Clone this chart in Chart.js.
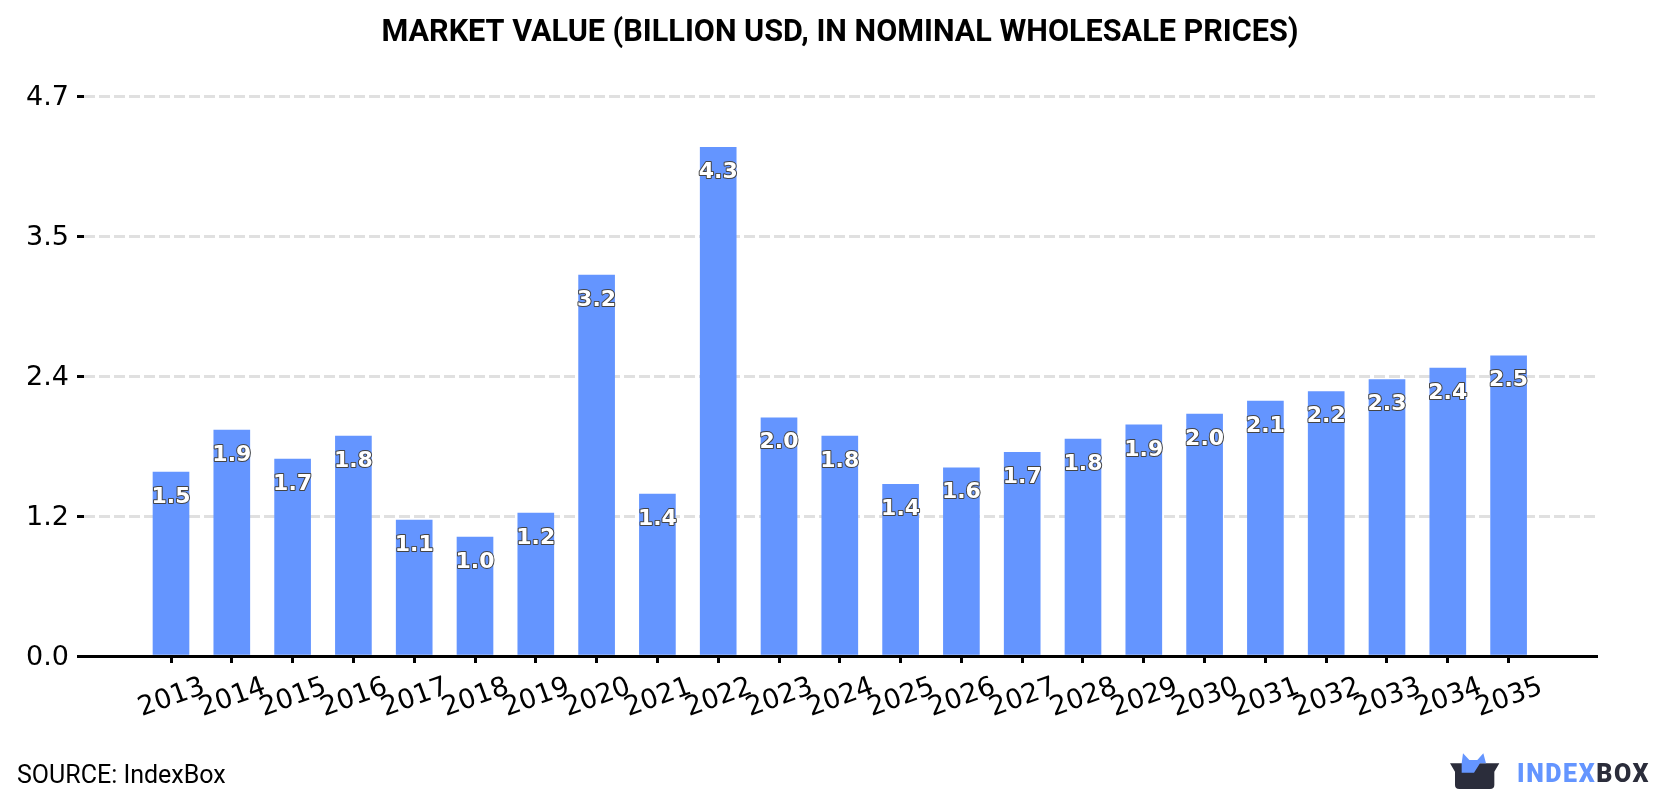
<!DOCTYPE html>
<html>
<head>
<meta charset="utf-8">
<title>Market Value</title>
<script src="https://cdn.jsdelivr.net/npm/chart.js@4"></script>
<style>
  html, body { margin: 0; padding: 0; background: #fff; }
  #wrap { position: relative; width: 1680px; height: 800px; overflow: hidden; }
  #source { position: absolute; left: 17px; top: 760px; font: 25px Roboto, sans-serif; color: #000; }
  #logo-icon { position: absolute; left: 1400px; top: 730px; }
  #logo-text { position: absolute; left: 1517px; top: 759px; font: 900 25px/30px Roboto, sans-serif; letter-spacing: 1.6px; color: #6495ff; }
  #logo-text span { color: #2b2d3b; }
</style>
</head>
<body>
<div id="wrap">
  <canvas id="my-chart" width="1680" height="800"></canvas>
  <div id="source">SOURCE: IndexBox</div>
  <svg id="logo-icon" width="100" height="70" viewBox="0 0 300 210">
    <path fill="#2b2d3b" d="M150 100 H298 L283 125 V165 Q283 177 270 177 H178 Q165 177 165 165 V125 Z"/>
    <path fill="#6495ff" d="M185 100 L189 70 L208 90 H232 L250 70 L258 100 H240 L222 128 H185 Z"/>
  </svg>
  <div id="logo-text">INDEX<span>BOX</span></div>
</div>
<script>
const years = [2013, 2014, 2015, 2016, 2017, 2018, 2019, 2020, 2021, 2022, 2023, 2024,
  2025, 2026, 2027, 2028, 2029, 2030, 2031, 2032, 2033, 2034, 2035];
const marketValue = [1.544, 1.897, 1.653, 1.846, 1.141, 0.999, 1.2, 3.197, 1.36, 4.27, 2.0, 1.846,
  1.44, 1.58, 1.71, 1.82, 1.94, 2.03, 2.14, 2.22, 2.32, 2.417, 2.52];
const valueTicks = [0, 1.175, 2.35, 3.525, 4.7];

const chartTitle = "MARKET VALUE (BILLION USD, IN NOMINAL WHOLESALE PRICES)";
const barColor = "#6495ff";

// white outlined value inside the top of each bar
const barLabels = {
  id: "barLabels",
  afterDatasetsDraw(chart) {
    const ctx = chart.ctx;
    const bars = chart.getDatasetMeta(0).data;
    ctx.save();
    ctx.font = "bold 22px 'DejaVu Sans'";
    ctx.textAlign = "center";
    ctx.textBaseline = "middle";
    ctx.lineJoin = "round";
    bars.forEach((bar, i) => {
      const text = marketValue[i].toFixed(1);
      ctx.lineWidth = 2;
      ctx.strokeStyle = "#444";
      ctx.strokeText(text, bar.x, bar.y + 25);
      ctx.fillStyle = "#fff";
      ctx.fillText(text, bar.x, bar.y + 25);
    });
    ctx.restore();
  },
};

const ctx = document.getElementById("my-chart").getContext("2d");
const chart = new Chart(ctx, {
  type: "bar",
  data: {
    labels: years,
    datasets: [
      {
        label: "Market value",
        data: marketValue,
        backgroundColor: barColor,
        barThickness: 36,
      },
    ],
  },
  plugins: [barLabels],
  options: {
    responsive: false,
    animation: false,
    plugins: {
      legend: { display: false },
      tooltip: { enabled: false },
      title: {
        display: true,
        text: chartTitle,
        color: "#000",
        font: { family: "Roboto", size: 30.6, weight: "bold", lineHeight: 1.2 },
        padding: { top: 15.4, bottom: 43.9 },
      },
    },
    scales: {
      x: {
        type: "linear",
        offset: false,
        min: 2011.569,
        max: 2036.454,
        afterBuildTicks(scale) {
          scale.ticks = years.map((y) => ({ value: y }));
        },
        afterFit(scale) {
          scale.height = 144;
        },
        border: { color: "#000", width: 3 },
        grid: { offset: false, drawOnChartArea: false, color: "#000", tickColor: "#000", tickWidth: 3, tickLength: 7 },
        ticks: {
          autoSkip: false,
          minRotation: 20,
          maxRotation: 20,
          labelOffset: 33,
          padding: 8,
          color: "#000",
          font: { family: "DejaVu Sans", size: 27 },
          callback: (value) => String(value),
        },
      },
      y: {
        min: 0,
        max: 4.7,
        afterBuildTicks(scale) {
          scale.ticks = valueTicks.map((v) => ({ value: v }));
        },
        afterFit(scale) {
          scale.width = 84;
        },
        border: { display: false, dash: [11, 4] },
        grid: { color: "#e0e0e0", lineWidth: 3, tickColor: "#000", tickWidth: 3, tickLength: 7 },
        ticks: {
          autoSkip: false,
          padding: 8,
          labelOffset: 2,
          color: "#000",
          font: { family: "DejaVu Sans", size: 27 },
          callback: (value) => value.toFixed(1),
        },
      },
      // empty axis on the right, balances the left one so the title stays centred
      spacer: {
        type: "linear",
        position: "right",
        grid: { display: false },
        border: { display: false },
        ticks: { display: false },
        afterFit(scale) {
          scale.width = 83;
        },
      },
    },
  },
});
</script>
</body>
</html>
